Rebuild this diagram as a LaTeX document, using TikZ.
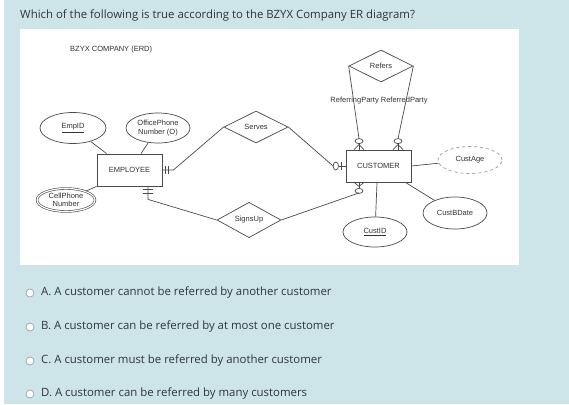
\documentclass[tikz,border=0pt]{standalone}
\usepackage{fontspec}
\setmainfont{Liberation Sans}
\newfontfamily\uifont{Open Sans}
\usetikzlibrary{shapes.geometric}
\definecolor{bgblue}{HTML}{CDE5E9}
\definecolor{txt}{HTML}{333333}
\definecolor{ln}{HTML}{4A4A4A}
\definecolor{qtxt}{HTML}{2E3540}
\begin{document}
\begin{tikzpicture}[x=1pt,y=-1pt,
  erfont/.style={font=\fontsize{7.5}{8.3}\selectfont, text=txt},
  entity/.style={draw=ln, line width=0.8pt, minimum width=65pt, minimum height=32pt, inner sep=0pt, erfont},
  rel/.style={diamond, draw=ln, line width=0.7pt, minimum width=64pt, minimum height=32pt, inner sep=0pt, erfont},
  attr/.style={ellipse, draw=ln, line width=0.7pt, minimum width=64pt, minimum height=30pt, inner sep=0pt, erfont, align=center},
  conn/.style={draw=ln, line width=0.7pt},
  qfont/.style={font=\uifont\fontsize{11.4}{13}\selectfont, text=qtxt},
  radio/.style={circle, draw=gray!80, fill=white, line width=0.6pt, minimum size=8pt, inner sep=0pt}
]
\useasboundingbox (0,0) rectangle (569,404);
\fill[bgblue] (0,0) rectangle (569,404);
\fill[white] (0,0) rectangle (4,404);
\fill[white] (20,29) rectangle (519,265);

% question
\node[qfont, anchor=west, inner sep=0pt] (q) at (20,16) {Which of the following is true according to the BZYX Company ER diagram?};

% diagram
\node[erfont, anchor=west, inner sep=0pt] (title) at (70,50) {BZYX COMPANY (ERD)};
\node[rel] (refers) at (381,66) {Refers};
\node[erfont, inner sep=0pt] (roles) at (379,101) {ReferringParty ReferredParty};
\node[rel] (serves) at (256,127) {Serves};
\node[rel] (signs) at (249,220) {SignsUp};
\node[entity] (emp) at (129.5,170) {EMPLOYEE};
\node[entity] (cust) at (378.5,166) {CUSTOMER};
\node[attr, minimum width=66pt, minimum height=31pt] (empid) at (73,128) {\underline{EmpID}};
\node[attr] (office) at (158,128) {OfficePhone\\Number (O)};
\node[attr, double=white, double distance=1.2pt, line width=0.6pt, minimum width=58pt, minimum height=23pt] (cell) at (66,200) {CellPhone\\Number};
\node[attr, dashed, draw=gray!80, minimum height=27pt] (age) at (470,160) {CustAge};
\node[attr, minimum height=32pt] (bdate) at (455,213) {CustBDate};
\node[attr] (custid) at (375,232) {\underline{CustID}};

% employee attributes
\draw[conn] (empid) -- ([xshift=10pt]emp.north west);
\draw[conn] (office) -- ([xshift=11.5pt]emp.north);
\draw[conn] (emp.south west) -- (cell);

% employee - serves (one and only one)
\draw[conn] (emp.east) -- ++(11,0) -- (serves.west);
\draw[conn] (emp.east) ++(3,-4) -- ++(0,8);
\draw[conn] (emp.east) ++(6,-4) -- ++(0,8);

% employee - signs up (one and only one)
\coordinate (eb) at ([xshift=18.5pt]emp.south);
\draw[conn] (eb) -- ++(0,13) -- (signs.west);
\draw[conn] (eb) ++(-5,3) -- ++(10,0);
\draw[conn] (eb) ++(-5,7) -- ++(10,0);

% serves - customer (zero or one)
\coordinate (cl) at ([xshift=-12.5pt]cust.west);
\draw[conn] (serves.east) -- (cl);
\draw[conn] (cust.west) ++(-9.8,0) ellipse [x radius=2.7pt, y radius=4pt];
\draw[conn] (cust.west) ++(-7.1,0) -- (cust.west);
\draw[conn] (cust.west) ++(-4.3,-4) -- ++(0,8);

% refers - customer (zero or many, twice)
\coordinate (ct1) at ([xshift=-19.5pt]cust.north);
\coordinate (ct2) at ([xshift=19.5pt]cust.north);
\foreach \c/\r in {ct1/refers.west, ct2/refers.east}{
  \draw[conn] (\r) -- ([yshift=11pt]\c);
  \draw[conn] ([yshift=8.5pt]\c) ellipse [x radius=4pt, y radius=2.5pt];
  \draw[conn] ([yshift=6pt]\c) -- (\c);
  \draw[conn] ([yshift=5pt]\c) -- ([xshift=-5pt]\c);
  \draw[conn] ([yshift=5pt]\c) -- ([xshift=5pt]\c);
}

% signs up - customer (zero or many)
\coordinate (cb) at ([xshift=-19.5pt]cust.south);
\draw[conn] (cb) -- ++(0,6);
\draw[conn] (cb) ++(0,8.5) ellipse [x radius=4pt, y radius=2.5pt];
\draw[conn] (cb) ++(0,4) -- ++(-5,-4);
\draw[conn] (cb) ++(0,4) -- ++(5,-4);
\coordinate (cbc) at ([yshift=-10.5pt]cb);
\draw[conn] (signs.east) -- (cbc);

% customer attributes
\draw[conn] (cust.east) -- (age);
\draw[conn] ([xshift=-6pt]cust.south east) -- (bdate);
\draw[conn] ([xshift=-1.5pt]cust.south) -- (custid);

% answers
\node[radio] (ra) at (30,293) {};
\node[radio] (rb) at (30,327) {};
\node[radio] (rc) at (30,361) {};
\node[radio] (rd) at (30,394) {};
\node[qfont, anchor=west, inner sep=0pt] (ta) at (41,293) {A. A customer cannot be referred by another customer};
\node[qfont, anchor=west, inner sep=0pt] (tb) at (41,327) {B. A customer can be referred by at most one customer};
\node[qfont, anchor=west, inner sep=0pt] (tc) at (41,361) {C. A customer must be referred by another customer};
\node[qfont, anchor=west, inner sep=0pt] (td) at (41,394) {D. A customer can be referred by many customers};
\end{tikzpicture}
\end{document}
